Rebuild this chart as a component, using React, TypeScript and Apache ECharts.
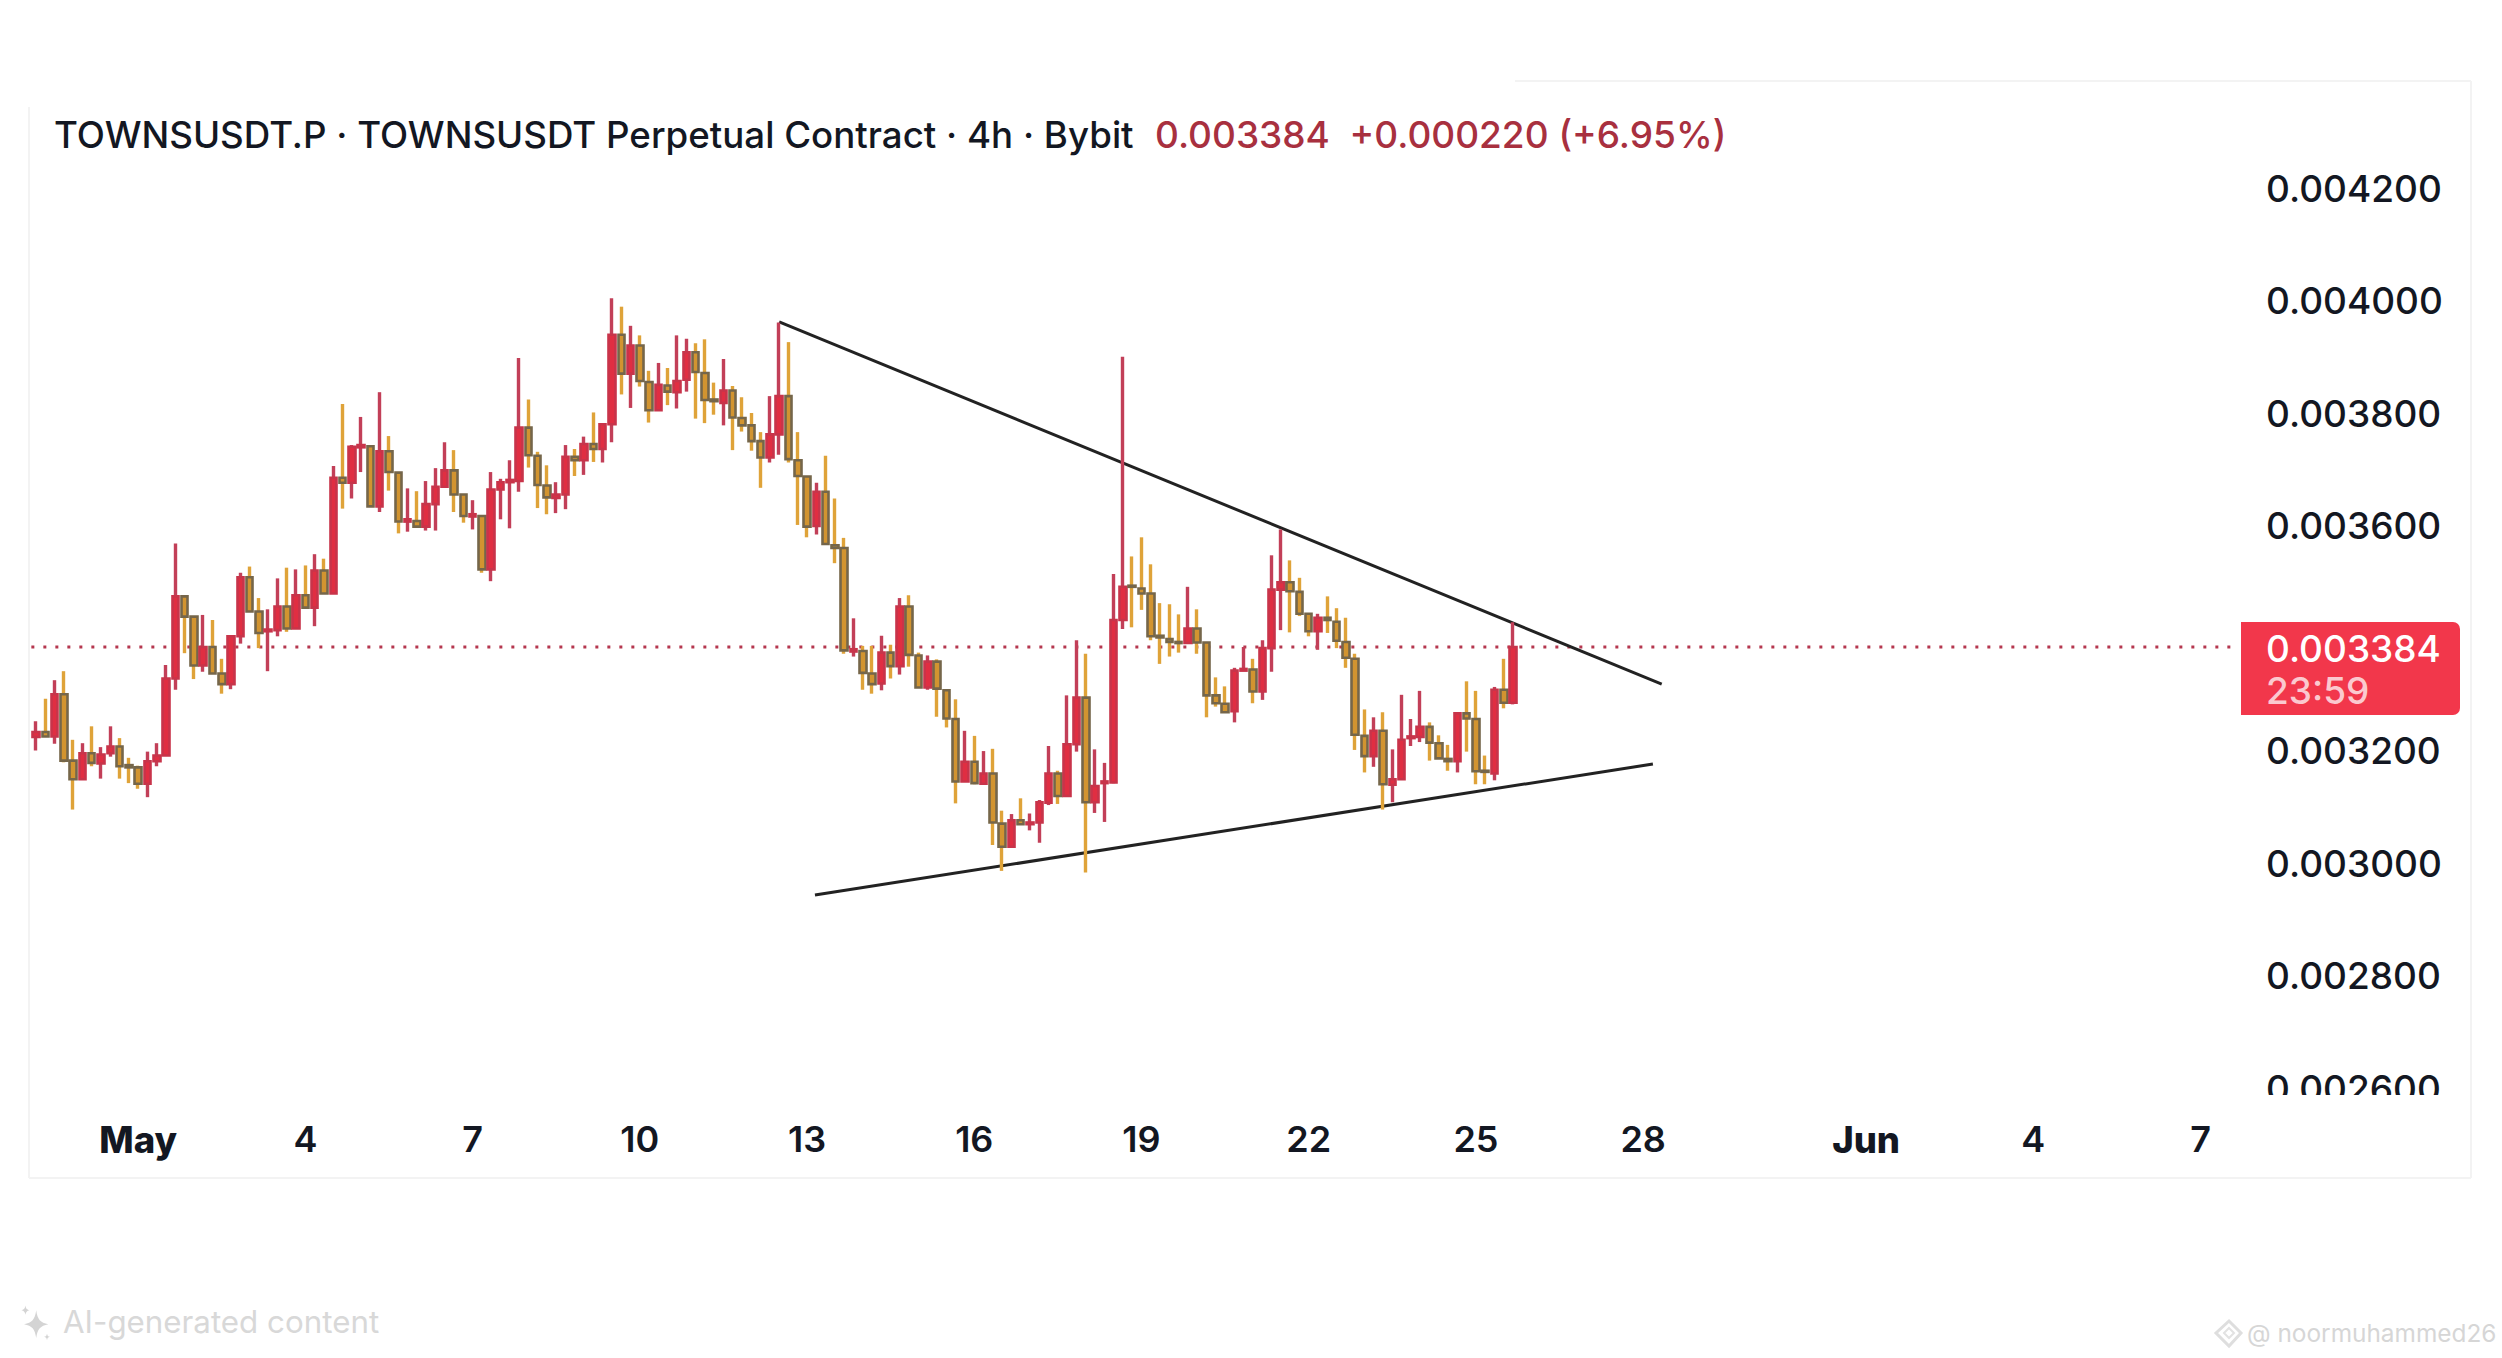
import React, { useEffect, useRef } from "react";
import * as echarts from "echarts";

// Prices are written in millionths of USDT (0.003384 -> 3384).
const opens = [
  3224,3233,3225,3300,3182,3149,3195,3177,3195,3207,3174,3170,3141,3181,3191,3328,3474,3438,3351,3384,
  3337,3318,3403,3508,3447,3412,3414,3456,3417,3476,3454,3520,3479,3685,3676,3739,3741,3634,3732,3694,
  3607,3608,3598,3638,3669,3698,3655,3616,3617,3522,3664,3677,3679,3774,3724,3671,3649,3655,3722,3716,
  3745,3736,3780,3939,3870,3920,3855,3805,3849,3837,3859,3908,3871,3824,3818,3840,3791,3778,3750,3721,
  3762,3830,3716,3687,3599,3660,3565,3560,3376,3377,3337,3319,3374,3350,3456,3369,3312,3358,3307,3256,
  3145,3180,3141,3159,3070,3029,3076,3069,3072,3107,3159,3119,3211,3294,3108,3142,3143,3432,3493,3488,
  3479,3404,3398,3393,3391,3417,3392,3298,3283,3270,3342,3344,3305,3382,3486,3499,3482,3443,3412,3436,
  3429,3393,3363,3226,3190,3235,3139,3149,3222,3224,3242,3213,3185,3181,3266,3256,3164,3159,3308,3285,
];
const closes = [
  3233,3225,3300,3182,3149,3195,3178,3193,3207,3172,3170,3141,3181,3191,3328,3474,3438,3351,3384,3337,
  3318,3403,3508,3447,3409,3415,3456,3417,3476,3454,3520,3479,3685,3676,3740,3743,3634,3732,3695,3607,
  3611,3598,3638,3669,3698,3655,3617,3620,3522,3664,3677,3681,3774,3725,3672,3650,3655,3722,3716,3745,
  3736,3780,3939,3870,3920,3857,3805,3850,3838,3857,3908,3873,3823,3821,3840,3792,3778,3750,3721,3762,
  3830,3718,3688,3598,3660,3567,3560,3378,3380,3338,3318,3374,3350,3456,3370,3312,3358,3310,3257,3145,
  3180,3142,3159,3072,3029,3076,3069,3072,3108,3159,3119,3211,3294,3108,3137,3145,3432,3491,3491,3479,
  3403,3401,3393,3391,3417,3392,3298,3284,3268,3342,3345,3305,3382,3486,3499,3483,3443,3412,3436,3432,
  3395,3365,3228,3190,3235,3140,3149,3219,3225,3242,3214,3186,3181,3266,3257,3163,3162,3308,3285,3384,
];
const lows = [
  3200,3225,3212,3179,3095,3149,3172,3150,3189,3150,3142,3132,3117,3172,3191,3308,3373,3327,3340,3337,
  3301,3309,3390,3447,3382,3341,3403,3411,3417,3454,3421,3479,3479,3630,3648,3695,3634,3624,3662,3586,
  3589,3598,3591,3591,3669,3624,3605,3593,3516,3501,3611,3595,3660,3703,3631,3620,3622,3629,3688,3690,
  3713,3712,3748,3833,3809,3847,3783,3804,3814,3808,3838,3790,3782,3797,3778,3734,3767,3733,3667,3712,
  3726,3712,3601,3579,3584,3567,3533,3372,3367,3308,3301,3307,3328,3335,3349,3312,3308,3260,3241,3106,
  3145,3140,3140,3032,2986,3027,3069,3058,3036,3103,3105,3119,3198,2983,3089,3073,3142,3416,3419,3450,
  3396,3354,3367,3374,3391,3372,3259,3278,3268,3250,3342,3284,3290,3340,3414,3410,3439,3403,3379,3409,
  3382,3347,3201,3161,3171,3095,3108,3149,3208,3215,3182,3185,3164,3161,3198,3140,3140,3147,3275,3282,
];
const highs = [
  3252,3292,3325,3341,3219,3213,3243,3206,3243,3222,3187,3173,3198,3213,3352,3568,3474,3438,3441,3432,
  3363,3403,3516,3527,3471,3451,3506,3525,3522,3529,3549,3541,3706,3816,3743,3793,3741,3837,3759,3694,
  3666,3661,3679,3702,3748,3734,3655,3645,3617,3695,3683,3716,3898,3824,3731,3707,3677,3743,3736,3758,
  3801,3780,4004,3989,3955,3938,3875,3889,3880,3938,3932,3924,3931,3854,3896,3848,3828,3800,3766,3830,
  3961,3926,3766,3687,3676,3724,3648,3578,3435,3386,3386,3404,3388,3471,3476,3374,3369,3362,3307,3291,
  3235,3226,3199,3203,3093,3087,3115,3088,3112,3208,3164,3298,3396,3372,3202,3178,3514,3900,3545,3579,
  3531,3462,3460,3442,3491,3451,3392,3330,3314,3347,3384,3363,3396,3547,3593,3538,3507,3443,3443,3474,
  3453,3436,3372,3273,3259,3268,3202,3299,3256,3306,3250,3227,3210,3268,3323,3306,3191,3313,3363,3428,
];

const currentPrice = 0.003384;
const hiddenTick = 0.0034; // sits under the last-price tag in the reference
const priceTicks = { min: 0.0026, max: 0.0042, step: 0.0002 };
// Bars are 4h; the first one opens on Apr 29 at 04:00, the axis runs on to June.
const barCount = 237;
const tickBars = [11, 29, 47, 65, 83, 101, 119, 137, 155, 173, 197, 215, 233];
const tickLabels = ["May", "4", "7", "10", "13", "16", "19", "22", "25", "28", "Jun", "4", "7"];
const upperTrendline = [[80.0, 0.003962], [175.0, 0.003318]];
const lowerTrendline = [[83.85, 0.002943], [174.05, 0.003176]];

const titleLeft = "TOWNSUSDT.P · TOWNSUSDT Perpetual Contract · 4h · Bybit";
const titleRight = "0.003384  +0.000220 (+6.95%)";

const categories: string[] = [];
const t0 = Date.UTC(2025, 3, 29, 4);
for (let i = 0; i < barCount; i++) categories.push(new Date(t0 + i * 4 * 3600 * 1000).toISOString().slice(0, 16));

const FONT = "Inter";
const INK = "#131722";

const SPARKLE =
  "M12 4 C13 10 15 12 21 13 C15 14 13 16 12 22 C11 16 9 14 3 13 C9 12 11 10 12 4 Z " +
  "M4 1 C4.4 3 5 3.6 7 4 C5 4.4 4.4 5 4 7 C3.6 5 3 4.4 1 4 C3 3.6 3.6 3 4 1 Z " +
  "M20 19 C20.3 20.5 20.7 20.9 22.2 21.2 C20.7 21.5 20.3 21.9 20 23.4 C19.7 21.9 19.3 21.5 17.8 21.2 C19.3 20.9 19.7 20.5 20 19 Z";
echarts.graphic.registerShape("aiSparkle", echarts.graphic.extendPath(SPARKLE, {}) as any);

function frameLine(x1: number, y1: number, x2: number, y2: number) {
  return { type: "line", z: 1, silent: true, shape: { x1, y1, x2, y2 }, style: { stroke: "#f3f3f3", lineWidth: 2 } };
}

export default function App() {
  const ref = useRef<HTMLDivElement>(null);
  useEffect(() => {
    document.body.style.margin = "0";
    document.body.style.background = "#ffffff";
    const chart = echarts.init(ref.current!, undefined, { renderer: "svg" });
    const toPrice = (v: number) => v / 1e6;
    const wicks = opens.map((o, i) => [toPrice(o), toPrice(closes[i]), toPrice(lows[i]), toPrice(highs[i])]);
    const bodies = opens.map((o, i) => {
      const c = closes[i];
      return [toPrice(o), toPrice(c), toPrice(Math.min(o, c)), toPrice(Math.max(o, c))];
    });
    chart.setOption({
      animation: false,
      backgroundColor: "#ffffff",
      title: [
        { text: titleLeft, left: 54, top: 116, padding: 0, textStyle: { fontFamily: FONT, fontSize: 36.7, fontWeight: 500, color: INK } },
        { text: titleRight, left: 1155, top: 116, padding: 0, textStyle: { fontFamily: FONT, fontSize: 37, fontWeight: 500, color: "#a8303f" } },
      ],
      grid: { left: 31.35, top: 188, width: 2201.7, height: 900, containLabel: false },
      xAxis: [
        {
          type: "category",
          data: categories,
          boundaryGap: true,
          axisLine: { show: false },
          axisTick: { show: false },
          splitLine: { show: false },
          axisLabel: {
            interval: (idx: number) => tickBars.includes(idx),
            margin: 33,
            hideOverlap: false,
            fontFamily: FONT,
            fontSize: 36,
            fontWeight: 600,
            color: INK,
            formatter: (_: string, idx: number) => {
              const label = tickLabels[tickBars.indexOf(idx)] ?? "";
              return label === "May" || label === "Jun" ? `{m|${label}}` : label;
            },
            rich: { m: { fontFamily: FONT, fontSize: 36.5, fontWeight: 800, color: INK } },
          },
        },
        { type: "value", show: false, min: -0.5, max: barCount - 0.5, splitLine: { show: false } },
      ],
      yAxis: {
        type: "value",
        position: "right",
        min: priceTicks.min,
        max: priceTicks.max,
        interval: priceTicks.step,
        axisLine: { show: false },
        axisTick: { show: false },
        splitLine: { show: false },
        axisLabel: {
          margin: 33,
          fontFamily: FONT,
          fontSize: 37,
          fontWeight: 500,
          color: INK,
          formatter: (v: number) => (Math.abs(v - hiddenTick) < 1e-9 ? "" : v.toFixed(6)),
        },
      },
      series: [
        {
          type: "line",
          name: "Last price",
          xAxisIndex: 1,
          data: [[-0.5, currentPrice], [barCount - 0.5, currentPrice]],
          symbol: "none",
          silent: true,
          z: 1,
          lineStyle: { color: "#b5374f", width: 3, type: [3, 9] },
        },
        {
          type: "line",
          name: "Upper trendline",
          xAxisIndex: 1,
          data: upperTrendline,
          symbol: "none",
          silent: true,
          z: 1,
          lineStyle: { color: "#222222", width: 3 },
        },
        {
          type: "line",
          name: "Lower trendline",
          xAxisIndex: 1,
          data: lowerTrendline,
          symbol: "none",
          silent: true,
          z: 1,
          lineStyle: { color: "#222222", width: 3 },
        },
        {
          type: "candlestick",
          name: "Wicks",
          data: wicks,
          barWidth: 1,
          z: 2,
          itemStyle: { color: "#c23f58", color0: "#dfa339", borderColor: "#c23f58", borderColor0: "#dfa339", borderWidth: 3.4 },
        },
        {
          type: "candlestick",
          name: "TOWNSUSDT.P",
          data: bodies,
          barWidth: 7,
          z: 3,
          itemStyle: { color: "#e02e42", color0: "#d29430", borderColor: "#c8344a", borderColor0: "#75664a", borderWidth: 2.6 },
        },
      ],
      graphic: [
        frameLine(29, 107, 29, 1178),
        frameLine(29, 1178, 2471, 1178),
        frameLine(2471, 81, 2471, 1178),
        frameLine(1515, 81, 2471, 81),
        { type: "rect", z: 50, silent: true, shape: { x: 2250, y: 1095, width: 210, height: 32 }, style: { fill: "#ffffff" } },
        { type: "rect", z: 60, silent: true, shape: { x: 2241, y: 622, width: 219, height: 93, r: [0, 7, 7, 0] }, style: { fill: "#f2374b" } },
        { type: "text", z: 61, silent: true, x: 2266, y: 648, style: { text: "0.003384", fill: "#ffffff", font: `500 37px ${FONT}`, textVerticalAlign: "middle" } },
        { type: "text", z: 61, silent: true, x: 2266, y: 690, style: { text: "23:59", fill: "#fbc9cf", font: `500 37px ${FONT}`, textVerticalAlign: "middle" } },
        { type: "text", z: 61, silent: true, x: 63, y: 1322, style: { text: "AI-generated content", fill: "#d8d8d8", font: `400 31.3px ${FONT}`, textVerticalAlign: "middle" } },
        { type: "text", z: 61, silent: true, x: 2247, y: 1333, style: { text: "@ noormuhammed26", fill: "#d6d6d6", font: `400 24.4px ${FONT}`, textVerticalAlign: "middle" } },
        { type: "aiSparkle", z: 61, silent: true, x: 20, y: 1304, scaleX: 1.35, scaleY: 1.55, style: { fill: "#d4d4d4" } },
        { type: "polygon", z: 61, silent: true, shape: { points: [[2229, 1321], [2241, 1333], [2229, 1346], [2216, 1333]] }, style: { fill: "none", stroke: "#dedede", lineWidth: 3 } },
        { type: "polygon", z: 61, silent: true, shape: { points: [[2229, 1328], [2234, 1333], [2229, 1338], [2224, 1333]] }, style: { fill: "none", stroke: "#e2e2e2", lineWidth: 2 } },
      ],
    });
    return () => chart.dispose();
  }, []);
  return <div ref={ref} style={{ position: "absolute", left: 0, top: 0, width: 2502, height: 1358 }} />;
}
